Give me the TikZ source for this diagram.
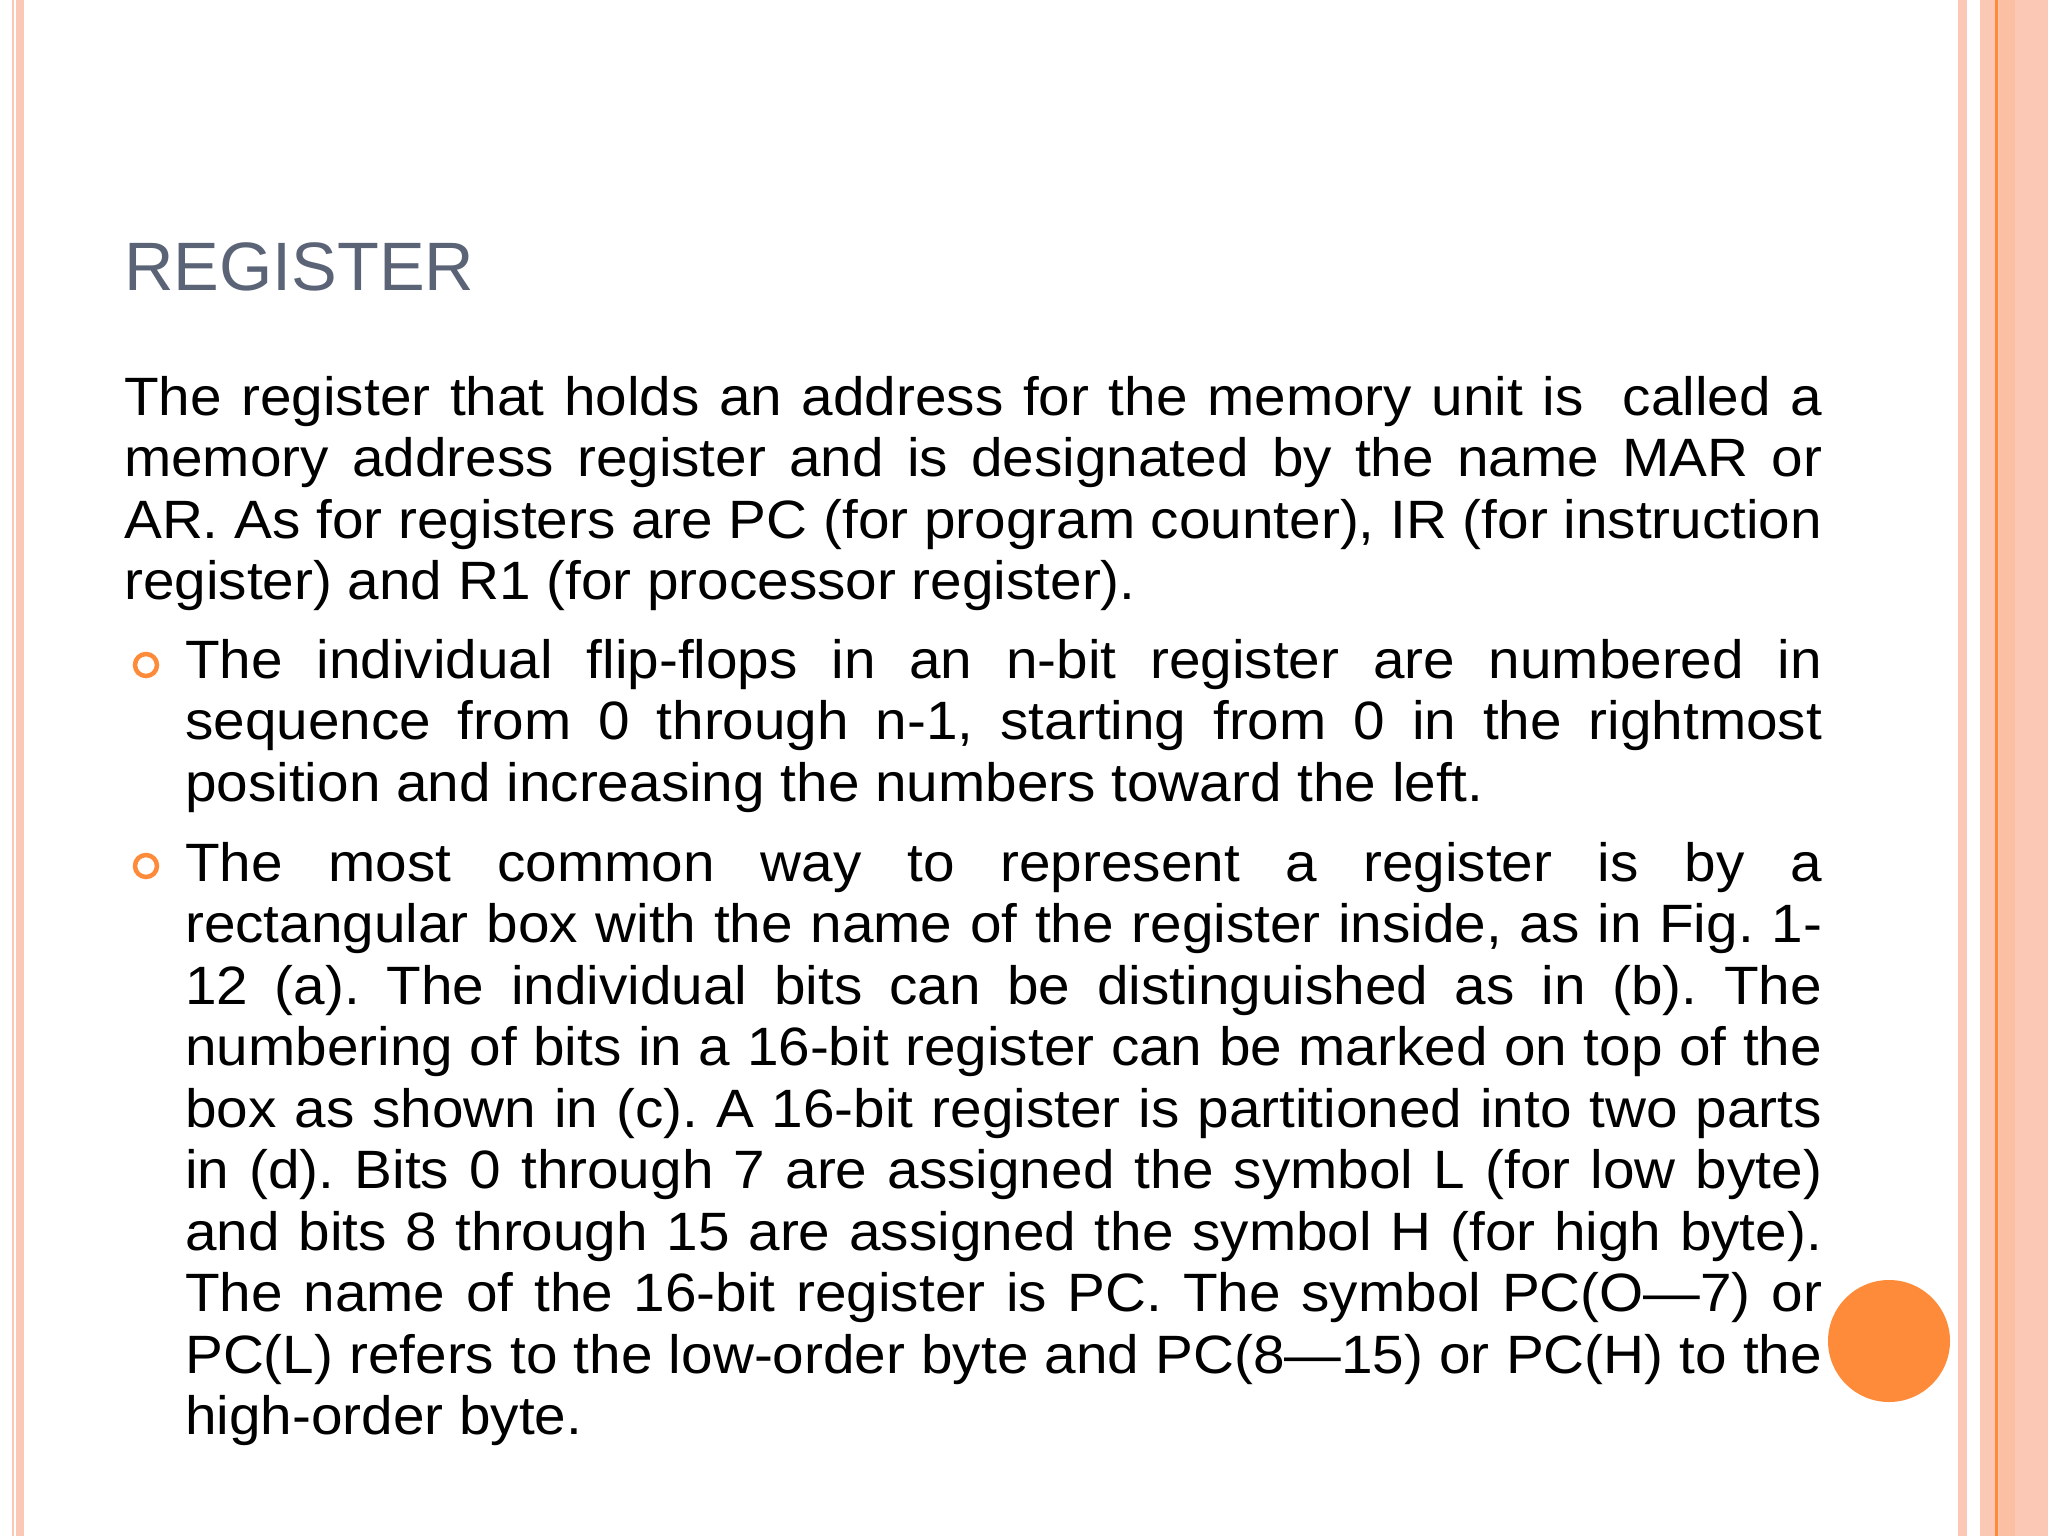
\documentclass[tikz,border=0pt]{standalone}
\usepackage{fontspec}
\setmainfont{Liberation Sans}
\newfontfamily\bodyfont[FakeStretch=1.05]{Liberation Sans}
\definecolor{pinkb}{HTML}{FBC8B6}
\definecolor{orgc}{HTML}{FD8B3A}
\definecolor{titlec}{HTML}{5B6477}
\tikzset{para/.style={anchor=north west,inner sep=0pt,align=justify,font=\bodyfont\frenchspacing\fontsize{54}{61.5}\selectfont}}
\begin{document}
\begin{tikzpicture}[x=1pt,y=-1pt]
\useasboundingbox (0,0) rectangle (2048,1536);
\fill[white] (0,0) rectangle (2048,1536);
% left border
\fill[pinkb] (12,0) rectangle (14,1536);
\fill[pinkb] (16,0) rectangle (24,1536);
% right border
\fill[pinkb] (1958,0) rectangle (1967,1536);
\fill[pinkb] (1980,0) rectangle (2048,1536);
\fill[pinkb!85!orgc] (1999,0) rectangle (2015,1536);
\fill[orgc] (1995,0) rectangle (1998,1536);
% circle
\fill[orgc] (1889,1341) circle (61);
% title
\node[anchor=base west,inner sep=0pt,text=titlec,font=\fontsize{68.5}{80}\selectfont] (title) at (124,290) {REGISTER};
% paragraphs
\node[para,text width=1698pt] (p1) at (124,376) {The register that holds an address for the memory unit is\ \ called a\linebreak memory address register and is designated by the name MAR or\linebreak AR. As for registers are PC (for program counter), IR (for instruction\linebreak register) and R1 (for processor register).};
\node[para,text width=1637pt] (p2) at (185,639) {The individual flip-flops in an n-bit register are numbered in\linebreak sequence from 0 through n-1, starting from 0 in the rightmost\linebreak position and increasing the numbers toward the left.};
\node[para,text width=1637pt] (p3) at (185,842) {The most common way to represent a register is by a\linebreak rectangular box with the name of the register inside, as in Fig. 1-\linebreak 12 (a). The individual bits can be distinguished as in (b). The\linebreak numbering of bits in a 16-bit register can be marked on top of the\linebreak box as shown in (c). A 16-bit register is partitioned into two parts\linebreak in (d). Bits 0 through 7 are assigned the symbol L (for low byte)\linebreak and bits 8 through 15 are assigned the symbol H (for high byte).\linebreak The name of the 16-bit register is PC. The symbol PC(O—7) or\linebreak PC(L) refers to the low-order byte and PC(8—15) or PC(H) to the\linebreak high-order byte.};
\draw[orgc,line width=4.5pt] (146,665) circle (11);
\draw[orgc,line width=4.5pt] (146,866) circle (11);
\end{tikzpicture}
\end{document}
